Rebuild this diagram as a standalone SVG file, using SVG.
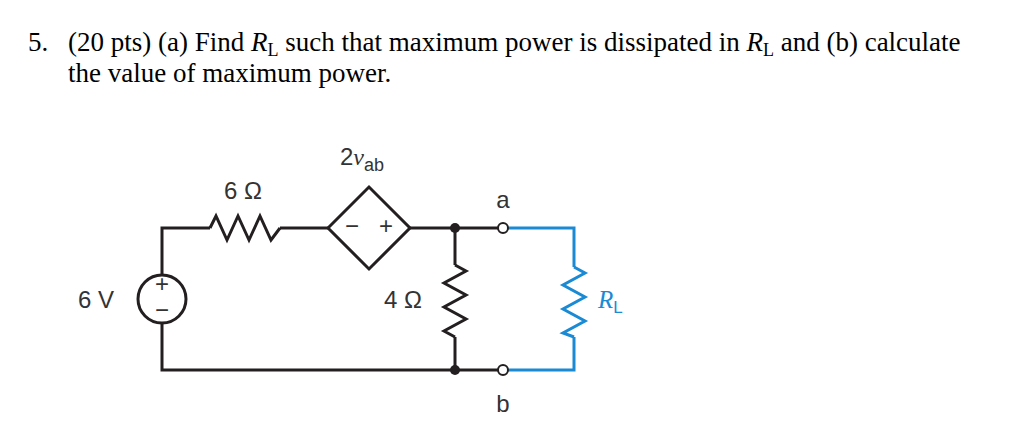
<svg xmlns="http://www.w3.org/2000/svg" width="1024" height="430" viewBox="0 0 1024 430">
<style>
.t{font-family:"Liberation Serif",serif;font-size:27px;fill:#000}
.l{font-family:"Liberation Sans",Arial,sans-serif;font-size:24px;fill:#333}
.w{fill:none;stroke:#231f20;stroke-width:3;stroke-linejoin:miter}
.b{fill:none;stroke:#1a8ad4;stroke-width:3}
</style>
<rect width="1024" height="430" fill="#fff"/>
<text class="t" x="28" y="51">5.</text>
<text class="t" x="68" y="51">(20 pts) (a) Find <tspan font-style="italic">R</tspan><tspan font-size="18" dy="5">L</tspan><tspan dy="-5"> such that maximum power is dissipated in </tspan><tspan font-style="italic">R</tspan><tspan font-size="18" dy="5">L</tspan><tspan dy="-5"> and (b) calculate</tspan></text>
<text class="t" x="68" y="82">the value of maximum power.</text>
<g id="connectors">
<polyline class="w" points="162,275 162,228 210,228"/>
<polyline class="w" points="280,228 328,228"/>
<polyline class="w" points="410,228 499,228"/>
<polyline class="w" points="162,323 162,370 499,370"/>
<polyline class="w" points="455,228 455,265"/>
<polyline class="w" points="455,337 455,370"/>
<polyline class="b" points="508,228 574,228 574,267"/>
<polyline class="b" points="574,337 574,370 508,370"/>
</g>
<g id="source"><circle class="w" cx="162" cy="299" r="24"/><text class="l" x="162" y="292" text-anchor="middle" font-size="15">+</text><text class="l" x="162" y="318" text-anchor="middle" font-size="15">−</text><text class="l" x="78" y="308">6 V</text></g>
<g id="r6"><polyline class="w" points="210,228 216,216 227,240 238,216 249,240 260,216 271,240 280,228"/><text class="l" x="243" y="199" text-anchor="middle">6 Ω</text></g>
<g id="dep"><polygon class="w" points="328,228 369,187 410,228 369,269"/><text class="l" x="352" y="234" text-anchor="middle" font-size="17">−</text><text class="l" x="386" y="234" text-anchor="middle" font-size="17">+</text><text class="l" x="340" y="165" font-size="25">2<tspan font-family="Liberation Serif" font-style="italic">v</tspan><tspan font-size="18" dy="6">ab</tspan></text></g>
<g id="r4"><polyline class="w" points="455,265 466,271 444,283 466,295 444,307 466,319 444,331 455,337"/><text class="l" x="403" y="308" text-anchor="middle">4 Ω</text></g>
<g id="rl"><polyline class="b" points="574,267 585,273 563,285 585,297 563,309 585,321 563,333 574,337"/><text x="598" y="308" font-family="Liberation Serif,serif" font-style="italic" font-size="25" fill="#1a8ad4">R<tspan font-style="normal" font-family="Liberation Sans,sans-serif" font-size="17" dy="5">L</tspan></text></g>
<g id="nodes"><circle cx="455" cy="228" r="5" fill="#231f20"/><circle cx="455" cy="370" r="5" fill="#231f20"/>
<circle cx="503" cy="228" r="5" fill="#fff" stroke="#231f20" stroke-width="2"/><circle cx="503" cy="370" r="5" fill="#fff" stroke="#231f20" stroke-width="2"/>
<text class="l" x="503" y="208" text-anchor="middle">a</text><text class="l" x="503" y="412" text-anchor="middle">b</text></g>
</svg>
